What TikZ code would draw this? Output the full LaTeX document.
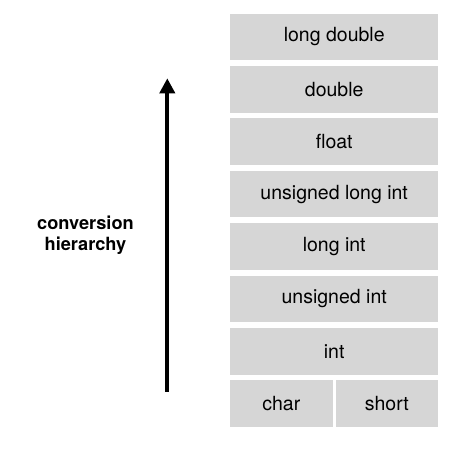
\documentclass[tikz,border=0pt]{standalone}
\usepackage{fontspec}
\setmainfont{TeX Gyre Heros}
\usetikzlibrary{arrows.meta}
\definecolor{boxgray}{HTML}{D6D6D6}
\begin{document}
\begin{tikzpicture}[x=1pt,y=-1pt,
  tbox/.style={fill=boxgray, draw=none, inner sep=0pt, font=\fontsize{19.5}{22}\selectfont},
  lbl/.style={font=\bfseries\fontsize{18.2}{20.5}\selectfont, align=center, inner sep=0pt}]
\useasboundingbox (0,0) rectangle (458,448);
\foreach \name/\txt [count=\i from 0] in {ld/long double, d/double, f/float, uli/unsigned long int, li/long int, ui/unsigned int, in/int}{
  \pgfmathsetmacro{\yt}{13.3+\i*52.4}
  \node[tbox, minimum width=208pt, minimum height=46.7pt, anchor=north west] (\name) at (230,\yt) {\txt};
}
\node[tbox, minimum width=102.3pt, minimum height=46.7pt, anchor=north west] (ch) at (230,380) {char};
\node[tbox, minimum width=102.7pt, minimum height=46.7pt, anchor=north west] (sh) at (335.3,380) {short};
\coordinate (abot) at (167.3,391.7);
\coordinate (atop) at (167.3,78.3);
\draw[line width=4pt, -{Triangle[length=15pt,width=15pt]}] (abot) -- (atop);
\node[lbl] (hier) at (85.5,235) {conversion\\hierarchy};
\end{tikzpicture}
\end{document}
